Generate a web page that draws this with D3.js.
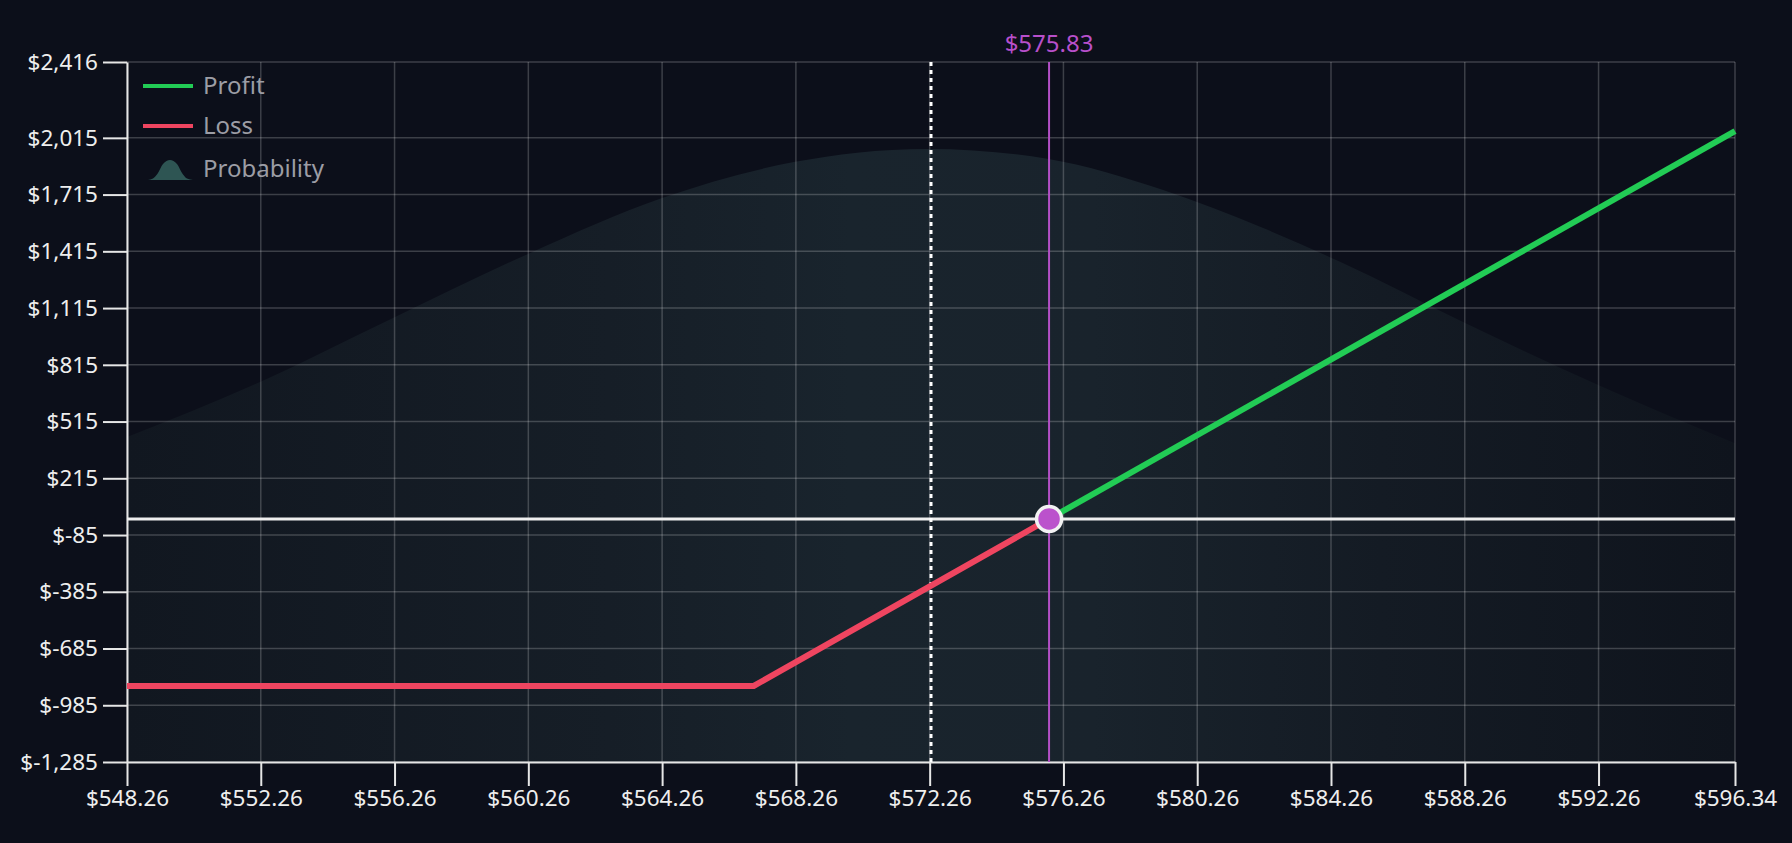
<!DOCTYPE html>
<html>
<head>
<meta charset="utf-8">
<script src="https://cdn.jsdelivr.net/npm/d3@7"></script>
<style>
  html, body { margin: 0; padding: 0; background: #0c0f1a; }
  svg { display: block; }
  .tick text { font-family: "Noto Sans", sans-serif; }
</style>
</head>
<body>
<div id="chart"></div>
<script>
// price axis ticks and y ticks
var xTicks = [548.26, 552.26, 556.26, 560.26, 564.26, 568.26, 572.26, 576.26, 580.26, 584.26, 588.26, 592.26, 596.34];
var yTicks = [-1285, -985, -685, -385, -85, 215, 515, 815, 1115, 1415, 1715, 2015, 2416];

// profit / loss at expiry
var lossPrices = [548.26, 567.0, 575.83];
var lossValues = [-883, -883, 0];
var profitPrices = [575.83, 596.34];
var profitValues = [0, 2051];

var breakeven = 575.83;
var currentPrice = 572.3;

// probability curve (relative height)
var probPrices = [548.26, 552.24, 556.2, 560.3, 564.26, 568.24, 570.1, 572.2, 575.77, 579.24, 582.23, 584.53, 588.27, 592.25, 596.34];
var probDensity = [0.53, 0.62, 0.724, 0.83, 0.92, 0.979, 0.994, 1.0, 0.984, 0.933, 0.871, 0.816, 0.716, 0.615, 0.52];

var width = 1792,
    height = 843,
    margin = {top: 62, right: 57, bottom: 81, left: 127};

var svg = d3.select("#chart")
    .append("svg")
    .attr("width", width)
    .attr("height", height)
    .style("background", "#0c0f1a");

var x = d3.scaleLinear()
    .domain([548.26, 596.34])
    .range([margin.left, width - margin.right]);

var y = d3.scaleLinear()
    .domain([-1285, 2416])
    .range([height - margin.bottom, margin.top]);

var yProb = d3.scaleLinear()
    .domain([0, 1])
    .range([height - margin.bottom, 149]);

var money = d3.format(",");

// gradient for the probability area
var defs = svg.append("defs");
var grad = defs.append("linearGradient")
    .attr("id", "probGrad")
    .attr("gradientUnits", "userSpaceOnUse")
    .attr("x1", x.range()[0]).attr("x2", x.range()[1])
    .attr("y1", 0).attr("y2", 0);
[[0, "#111720"], [0.3, "#161e27"], [0.45, "#19242d"], [0.6, "#19232c"], [0.78, "#141b24"], [1, "#0f141d"]]
    .forEach(s => {
        grad.append("stop").attr("offset", s[0]).attr("stop-color", s[1]);
    });

var probData = probPrices.map((p, i) => ({p: p, v: probDensity[i]}));

svg.append("path")
    .datum(probData)
    .attr("fill", "url(#probGrad)")
    .attr("d", d3.area()
        .x(d => x(d.p))
        .y0(yProb(0))
        .y1(d => yProb(d.v))
        .curve(d3.curveMonotoneX));

// grid
svg.append("g")
    .selectAll("line")
    .data(xTicks)
    .enter()
    .append("line")
    .attr("x1", d => x(d)).attr("x2", d => x(d))
    .attr("y1", margin.top).attr("y2", height - margin.bottom)
    .attr("stroke", "rgba(255,255,255,0.2)")
    .attr("stroke-width", 1.5);

svg.append("g")
    .selectAll("line")
    .data(yTicks)
    .enter()
    .append("line")
    .attr("x1", margin.left).attr("x2", width - margin.right)
    .attr("y1", d => y(d)).attr("y2", d => y(d))
    .attr("stroke", "rgba(255,255,255,0.2)")
    .attr("stroke-width", 1.5);

// axes
var xAxis = svg.append("g")
    .attr("transform", "translate(0," + (height - margin.bottom) + ")")
    .call(d3.axisBottom(x)
        .tickValues(xTicks)
        .tickSize(24)
        .tickSizeOuter(0)
        .tickPadding(4)
        .tickFormat(d => "$" + d.toFixed(2)));

var yAxis = svg.append("g")
    .attr("transform", "translate(" + margin.left + ",0)")
    .call(d3.axisLeft(y)
        .tickValues(yTicks)
        .tickSize(24)
        .tickSizeOuter(0)
        .tickPadding(5)
        .tickFormat(d => "$" + (d < 0 ? "-" : "") + money(Math.abs(d))));

[xAxis, yAxis].forEach(a => {
    a.select(".domain").attr("stroke", "#e6e6e6").attr("stroke-width", 2);
    a.selectAll(".tick line").attr("stroke", "#e6e6e6").attr("stroke-width", 2);
    a.selectAll(".tick text")
        .attr("fill", "#eeeeee")
        .style("font-size", "22.5px");
});

// zero line
svg.append("line")
    .attr("x1", margin.left).attr("x2", width - margin.right)
    .attr("y1", y(0)).attr("y2", y(0))
    .attr("stroke", "#eeeeee")
    .attr("stroke-width", 3);

// current price dotted line
svg.append("line")
    .attr("x1", x(currentPrice)).attr("x2", x(currentPrice))
    .attr("y1", margin.top).attr("y2", height - margin.bottom)
    .attr("stroke", "#ffffff")
    .attr("stroke-width", 3)
    .attr("stroke-dasharray", "4,4");

// breakeven line
svg.append("line")
    .attr("x1", x(breakeven)).attr("x2", x(breakeven))
    .attr("y1", margin.top).attr("y2", height - margin.bottom)
    .attr("stroke", "#b34fc6")
    .attr("stroke-width", 2);

svg.append("text")
    .attr("x", x(breakeven))
    .attr("y", 52)
    .attr("text-anchor", "middle")
    .attr("fill", "#b84fcb")
    .style("font-family", "Noto Sans, sans-serif")
    .style("font-size", "24px")
    .text("$" + breakeven.toFixed(2));

// P/L lines
var line = d3.line()
    .x(d => x(d[0]))
    .y(d => y(d[1]));

svg.append("path")
    .datum(lossPrices.map((p, i) => [p, lossValues[i]]))
    .attr("fill", "none")
    .attr("stroke", "#ef4560")
    .attr("stroke-width", 6)
    .attr("d", line);

svg.append("path")
    .datum(profitPrices.map((p, i) => [p, profitValues[i]]))
    .attr("fill", "none")
    .attr("stroke", "#22cc55")
    .attr("stroke-width", 6)
    .attr("d", line);

// breakeven marker
svg.append("circle")
    .attr("cx", x(breakeven))
    .attr("cy", y(0))
    .attr("r", 12.5)
    .attr("fill", "#bb52cc")
    .attr("stroke", "#f2f2f2")
    .attr("stroke-width", 3.5);

// legend
var legend = svg.append("g");
var legendItems = [
    {label: "Profit", color: "#22cc55", y: 86},
    {label: "Loss", color: "#ef4560", y: 126}
];
legendItems.forEach(l => {
    legend.append("line")
        .attr("x1", 143).attr("x2", 193)
        .attr("y1", l.y).attr("y2", l.y)
        .attr("stroke", l.color)
        .attr("stroke-width", 4);
    legend.append("text")
        .attr("x", 203).attr("y", l.y + 8)
        .attr("fill", "#9c9da5")
        .style("font-family", "Noto Sans, sans-serif")
        .style("font-size", "24px")
        .text(l.label);
});

// little bell icon for the probability entry
var bell = d3.line().curve(d3.curveMonotoneX);
legend.append("path")
    .attr("d", bell([[148, 180], [153, 178.5], [158, 173], [163, 164], [170, 160], [177, 164], [182, 173], [187, 178.5], [193, 180]]) + "Z")
    .attr("fill", "#2e5553");
legend.append("text")
    .attr("x", 203).attr("y", 177)
    .attr("fill", "#9c9da5")
    .style("font-family", "Noto Sans, sans-serif")
    .style("font-size", "24px")
    .text("Probability");
</script>
</body>
</html>
